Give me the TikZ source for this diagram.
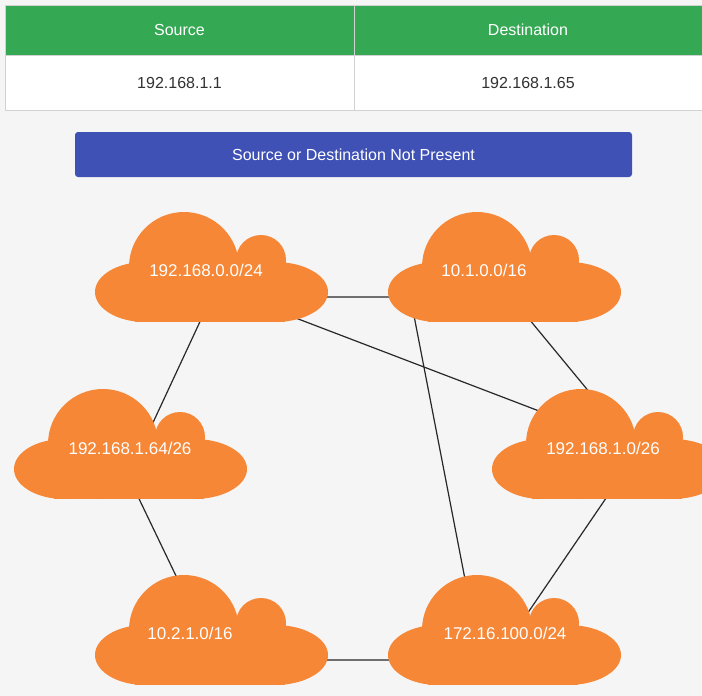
\documentclass[tikz,border=0pt]{standalone}
\usepackage{fontspec}
\setmainfont{Liberation Sans}
\definecolor{cloudorange}{RGB}{245,135,55}
\definecolor{bggray}{RGB}{245,245,245}
\definecolor{hdrgreen}{RGB}{52,168,83}
\definecolor{bordergray}{RGB}{210,210,210}
\definecolor{txtgray}{RGB}{50,50,50}
\definecolor{btnblue}{RGB}{63,81,181}
\definecolor{linegray}{RGB}{40,40,40}
\begin{document}
\begin{tikzpicture}[x=1pt,y=-1pt,
  cloudc/.style={fill=cloudorange},
  ctext/.style={text=white,font=\fontsize{17}{19}\selectfont},
  ttext/.style={font=\fontsize{16}{18}\selectfont},
  edge/.style={draw=linegray,line width=1.2pt}]
\useasboundingbox (0,0) rectangle (702,696);
\clip (0,0) rectangle (702,696);
\fill[bggray] (0,0) rectangle (702,696);
% table
\fill[white] (5,5) rectangle (702,110);
\fill[hdrgreen] (5,5) rectangle (702,55);
\draw[bordergray,line width=1pt] (5,5) rectangle (702,110) (354,5) -- (354,110);
\draw[bordergray,line width=1pt] (5,55) -- (702,55);
\node[ttext,text=white] (h1) at (179.5,30) {Source};
\node[ttext,text=white] (h2) at (528,30) {Destination};
\node[ttext,text=txtgray] (v1) at (179.5,83) {192.168.1.1};
\node[ttext,text=txtgray] (v2) at (528,83) {192.168.1.65};
% button
\fill[btnblue,rounded corners=3pt] (75,132) rectangle (632,177);
\node[ttext,text=white] (btn) at (353.5,155) {Source or Destination Not Present};
% connector ends
\coordinate (p12a) at (250,297); \coordinate (p12b) at (450,297);
\coordinate (p13a) at (211,298); \coordinate (p13b) at (130,472);
\coordinate (p14a) at (280,312); \coordinate (p14b) at (560,419);
\coordinate (p24a) at (510,296); \coordinate (p24b) at (600,405);
\coordinate (p26a) at (410,295); \coordinate (p26b) at (470,605);
\coordinate (p35a) at (130,480); \coordinate (p35b) at (190,605);
\coordinate (p46a) at (615,485); \coordinate (p46b) at (525,617);
\coordinate (p56a) at (250,660); \coordinate (p56b) at (450,660);
\draw[edge] (p12a)--(p12b) (p13a)--(p13b) (p14a)--(p14b) (p24a)--(p24b)
  (p26a)--(p26b) (p35a)--(p35b) (p46a)--(p46b) (p56a)--(p56b);
% clouds
\foreach \x/\y in {95/212,388/212,14/389,492/389,95/575,388/575}{
  \begin{scope}[shift={(\x,\y)}]
  \fill[cloudc] (50,80) ellipse (50pt and 30pt);
  \fill[cloudc] (180,80) ellipse (53pt and 30pt);
  \fill[cloudc] (89,55) circle (55pt);
  \fill[cloudc] (166,48) circle (25pt);
  \fill[cloudc] (40,60) rectangle (190,110);
  \end{scope}}
\node[ctext] (c1) at (206,270) {192.168.0.0/24};
\node[ctext] (c2) at (484,270) {10.1.0.0/16};
\node[ctext] (c3) at (130,448) {192.168.1.64/26};
\node[ctext] (c4) at (603,448) {192.168.1.0/26};
\node[ctext] (c5) at (190,633) {10.2.1.0/16};
\node[ctext] (c6) at (505,633) {172.16.100.0/24};
\end{tikzpicture}
\end{document}
